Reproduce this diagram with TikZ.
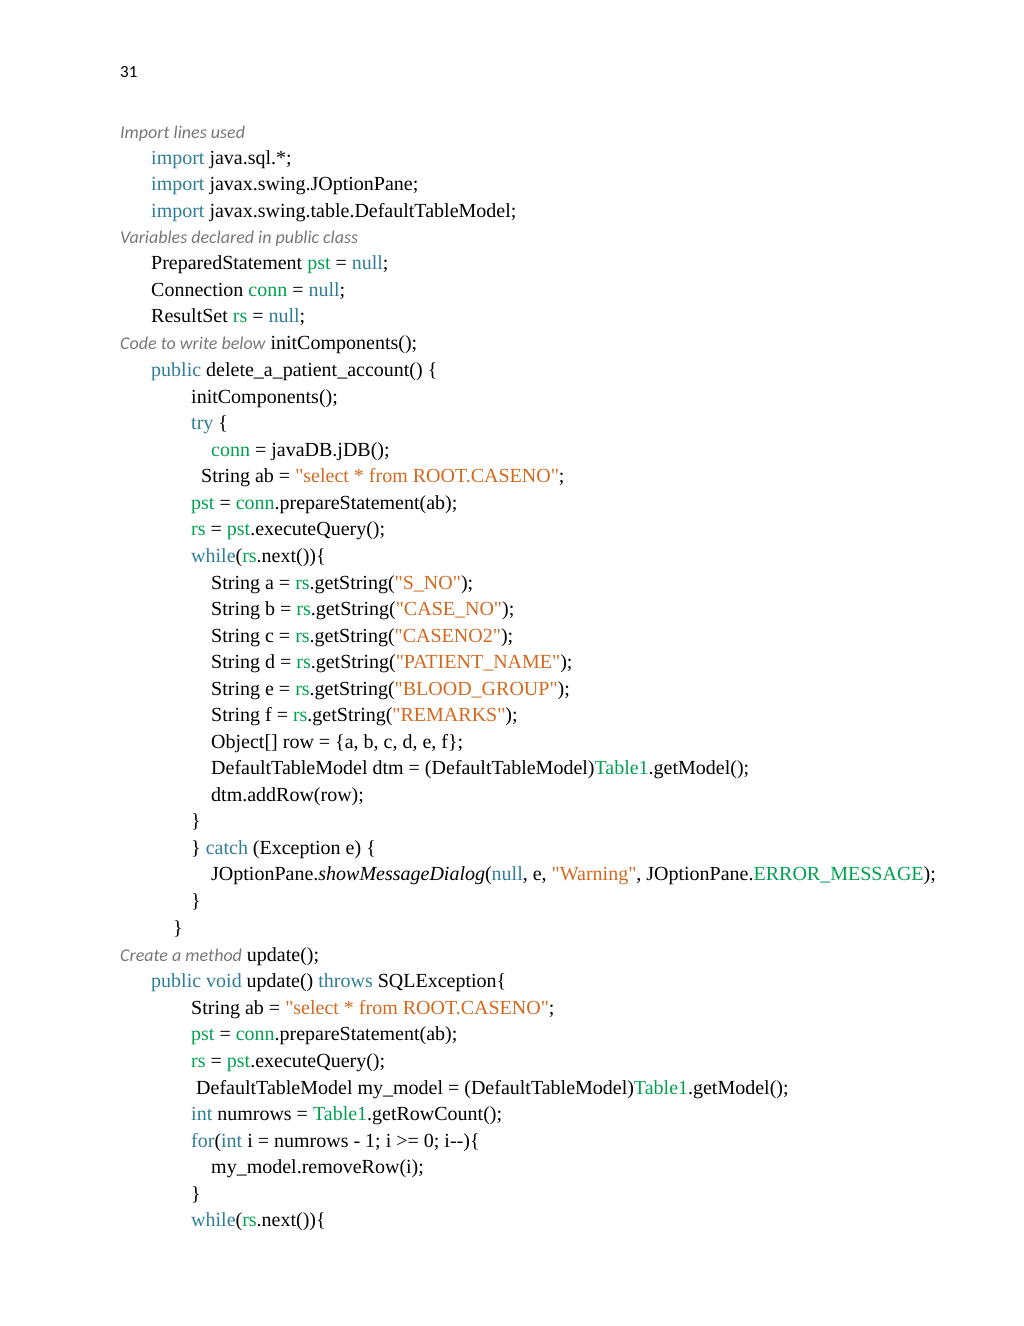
\documentclass[tikz,border=0pt]{standalone}
\usepackage{fontspec}
\setmainfont{Liberation Serif}
\newfontfamily\cmt{Carlito}
\definecolor{kw}{HTML}{2E7D96}
\definecolor{vr}{HTML}{00A050}
\definecolor{sr}{HTML}{D2691E}
\definecolor{cg}{HTML}{777777}
\newcommand{\kw}[1]{\textcolor{kw}{#1}}
\newcommand{\vr}[1]{\textcolor{vr}{#1}}
\newcommand{\sr}[1]{\textcolor{sr}{\textquotedbl#1\textquotedbl}}
\newcommand{\cm}[1]{{\cmt\itshape\fontsize{18}{20}\selectfont\textcolor{cg}{#1}}}
\begin{document}
\begin{tikzpicture}[x=1pt,y=-1pt,every node/.style={anchor=base west,inner sep=0pt,font=\fontsize{20}{22}\selectfont}]
\useasboundingbox (0,0) rectangle (1024,1326);
\node (pg) at (120,77) {\cmt\fontsize{17}{18}\selectfont 31};
\node (l1) at (120,138) {\cm{Import lines used}};
\node (l2) at (151,164) {\kw{import} java.sql.*;};
\node (l3) at (151,190) {\kw{import} javax.swing.JOptionPane;};
\node (l4) at (151,217) {\kw{import} javax.swing.table.DefaultTableModel;};
\node (l5) at (120,243) {\cm{Variables declared in public class}};
\node (l6) at (151,269) {PreparedStatement \vr{pst} = \kw{null};};
\node (l7) at (151,296) {Connection \vr{conn} = \kw{null};};
\node (l8) at (151,322) {ResultSet \vr{rs} = \kw{null};};
\node (l9) at (120,349) {\cm{Code to write below} initComponents();};
\node (l10) at (151,376) {\kw{public} delete\_a\_patient\_account() \{};
\node (l11) at (191,403) {initComponents();};
\node (l12) at (191,429) {\kw{try} \{};
\node (l13) at (211,456) {\vr{conn} = javaDB.jDB();};
\node (l14) at (201,482) {String ab = \sr{select * from ROOT.CASENO};};
\node (l15) at (191,509) {\vr{pst} = \vr{conn}.prepareStatement(ab);};
\node (l16) at (191,535) {\vr{rs} = \vr{pst}.executeQuery();};
\node (l17) at (191,562) {\kw{while}(\vr{rs}.next())\{};
\node (l18) at (211,589) {String a = \vr{rs}.getString(\sr{S\_NO});};
\node (l19) at (211,615) {String b = \vr{rs}.getString(\sr{CASE\_NO});};
\node (l20) at (211,642) {String c = \vr{rs}.getString(\sr{CASENO2});};
\node (l21) at (211,668) {String d = \vr{rs}.getString(\sr{PATIENT\_NAME});};
\node (l22) at (211,695) {String e = \vr{rs}.getString(\sr{BLOOD\_GROUP});};
\node (l23) at (211,721) {String f = \vr{rs}.getString(\sr{REMARKS});};
\node (l24) at (211,748) {Object[] row = \{a, b, c, d, e, f\};};
\node (l25) at (211,774) {DefaultTableModel dtm = (DefaultTableModel)\vr{Table1}.getModel();};
\node (l26) at (211,801) {dtm.addRow(row);};
\node (l27) at (191,827) {\}};
\node (l28) at (191,854) {\} \kw{catch} (Exception e) \{};
\node (l29) at (211,880) {JOptionPane.\textit{showMessageDialog}(\kw{null}, e, \sr{Warning}, JOptionPane.\vr{ERROR\_MESSAGE});};
\node (l30) at (191,907) {\}};
\node (l31) at (173,934) {\}};
\node (l32) at (120,961) {\cm{Create a method} update();};
\node (l33) at (151,987) {\kw{public} \kw{void} update() \kw{throws} SQLException\{};
\node (l34) at (191,1014) {String ab = \sr{select * from ROOT.CASENO};};
\node (l35) at (191,1040) {\vr{pst} = \vr{conn}.prepareStatement(ab);};
\node (l36) at (191,1067) {\vr{rs} = \vr{pst}.executeQuery();};
\node (l37) at (196,1094) {DefaultTableModel my\_model = (DefaultTableModel)\vr{Table1}.getModel();};
\node (l38) at (191,1120) {\kw{int} numrows = \vr{Table1}.getRowCount();};
\node (l39) at (191,1147) {\kw{for}(\kw{int} i = numrows - 1; i >= 0; i-{}-)\{};
\node (l40) at (211,1173) {my\_model.removeRow(i);};
\node (l41) at (191,1200) {\}};
\node (l42) at (191,1226) {\kw{while}(\vr{rs}.next())\{};
\end{tikzpicture}
\end{document}
